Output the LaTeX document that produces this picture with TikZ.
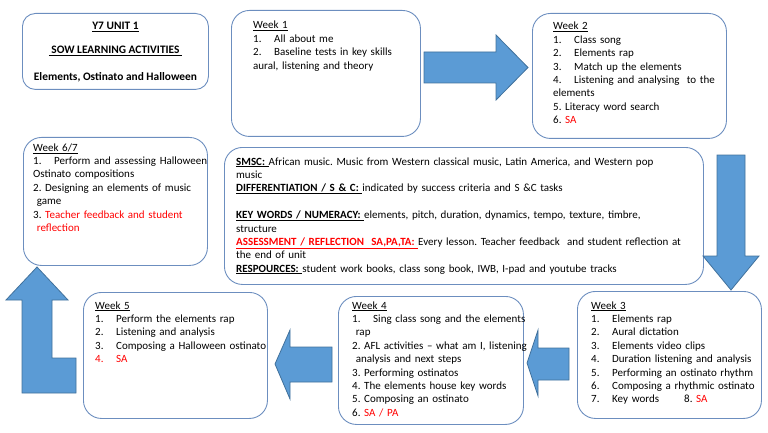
\documentclass[tikz,border=0pt]{standalone}
\usepackage{fontspec}
\setmainfont{Carlito}
\usepackage{xcolor}
\usepackage{tikz}
\definecolor{boxEdge}{HTML}{6C8EBF}
\definecolor{arrowBlue}{HTML}{5B9BD5}
\definecolor{arrowEdge}{HTML}{41719C}
\definecolor{markRed}{HTML}{FF0000}
\usetikzlibrary{positioning}
\frenchspacing
\newcommand{\itm}[2]{\makebox[21pt][l]{#1}#2}
\newcommand{\sa}[1]{\textcolor{markRed}{#1}}
\tikzstyle{weekbox} = [rectangle, draw = boxEdge, line width = 0.9pt, rounded corners = 18pt, anchor = north west, inner sep = 0pt]
\tikzstyle{titlebox} = [weekbox, rounded corners = 13pt]
\tikzstyle{weektext} = [anchor = base west, inner sep = 0pt, text width = 200pt, align = left, font = \fontsize{11}{13.4}\selectfont]
\tikzstyle{infotext} = [weektext, text width = 470pt]
\tikzstyle{blockarrow} = [fill = arrowBlue, draw = arrowEdge, line width = 0.8pt, line join = miter]

\begin{document}
\begin{tikzpicture}[x = 1pt, y = -1pt]
        \useasboundingbox (0,0) rectangle (768,433);
        % boxes
        \node(y7) [titlebox, minimum width = 186pt, minimum height = 76pt] at (22,13) {};
        \node(wk1) [weekbox, minimum width = 189pt, minimum height = 126pt] at (231,10) {};
        \node(wk2) [weekbox, minimum width = 194pt, minimum height = 125pt] at (532,13) {};
        \node(wk67) [weekbox, minimum width = 184pt, minimum height = 128pt] at (23,137) {};
        \node(info) [weekbox, minimum width = 479pt, minimum height = 137pt] at (224,147) {};
        \node(wk5) [weekbox, minimum width = 184pt, minimum height = 126pt] at (83,292) {};
        \node(wk4) [weekbox, minimum width = 185pt, minimum height = 128pt] at (338,296) {};
        \node(wk3) [weekbox, minimum width = 184pt, minimum height = 127pt] at (577,291) {};
        % texts
        \node(y7txt) [align = center, font = \fontsize{11.4}{13.4}\selectfont\bfseries] at ([yshift = -1pt]y7.center)
            {\underline{Y7 UNIT 1}\\[10.6pt]\underline{\ SOW LEARNING ACTIVITIES\ }\\[13.6pt]Elements, Ostinato and Halloween};
        \node(wk1txt) [weektext, below right = 19pt and 22pt of wk1.north west, anchor = base west]
            {\underline{Week 1}\\
            \itm{1.}{All about me}\\
            \itm{2.}{Baseline tests in key skills}\\
            aural, listening and theory};
        \node(wk2txt) [weektext, below right = 17pt and 21pt of wk2.north west, anchor = base west]
            {\underline{Week 2}\\
            \itm{1.}{Class song}\\
            \itm{2.}{Elements rap}\\
            \itm{3.}{Match up the elements}\\
            \itm{4.}{Listening and analysing\ \ to the}\\
            elements\\
            5. Literacy word search\\
            6. \sa{SA}};
        \node(wk67txt) [weektext, below right = 14pt and 10pt of wk67.north west, anchor = base west]
            {\underline{Week 6/7}\\
            \itm{1.}{Perform and assessing Halloween}\\
            Ostinato compositions\\
            2. Designing an elements of music\\
            \ game\\
            3. \sa{Teacher feedback and student}\\
            \ \sa{reflection}};
        \node(infotxt) [infotext, below right = 18pt and 12pt of info.north west, anchor = base west]
            {\underline{\textbf{SMSC:}\ }African music. Music from Western classical music, Latin America, and Western pop\\
            music\\
            \underline{\textbf{DIFFERENTIATION / S \& C:}\ }indicated by success criteria and S \&C tasks\\[13.4pt]
            \underline{\textbf{KEY WORDS / NUMERACY:}\ }elements, pitch, duration, dynamics, tempo, texture, timbre,\\
            structure\\
            \sa{\underline{\textbf{ASSESSMENT / REFLECTION\ \ SA,PA,TA:}\ }}Every lesson. Teacher feedback\ \ and student reflection at\\
            the end of unit\\
            \underline{\textbf{RESPOURCES:}\ }student work books, class song book, IWB, I-pad and youtube tracks};
        \node(wk5txt) [weektext, below right = 17pt and 12pt of wk5.north west, anchor = base west]
            {\underline{Week 5}\\
            \itm{1.}{Perform the elements rap}\\
            \itm{2.}{Listening and analysis}\\
            \itm{3.}{Composing a Halloween ostinato}\\
            \sa{\itm{4.}{SA}}};
        \node(wk4txt) [weektext, below right = 13pt and 14pt of wk4.north west, anchor = base west]
            {\underline{Week 4}\\
            \itm{1.}{Sing class song and the elements}\\
            \ rap\\
            2. AFL activities -- what am I, listening\\
            \ analysis and next steps\\
            3. Performing ostinatos\\
            4. The elements house key words\\
            5. Composing an ostinato\\
            6. \sa{SA / PA}};
        \node(wk3txt) [weektext, below right = 18pt and 14pt of wk3.north west, anchor = base west]
            {\underline{Week 3}\\
            \itm{1.}{Elements rap}\\
            \itm{2.}{Aural dictation}\\
            \itm{3.}{Elements video clips}\\
            \itm{4.}{Duration listening and analysis}\\
            \itm{5.}{Performing an ostinato rhythm}\\
            \itm{6.}{Composing a rhythmic ostinato}\\
            \makebox[93pt][l]{\itm{7.}{Key words}}8. \sa{SA}};
        % block arrows
        \draw[blockarrow] (424,52) -- (496,52) -- (496,35) -- (528,67.5) -- (496,100) -- (496,83) -- (424,83) -- cycle;
        \draw[blockarrow] (717,155) -- (745,155) -- (745,256) -- (759,256) -- (731,290) -- (703,256) -- (717,256) -- cycle;
        \draw[blockarrow] (569,348) -- (538,348) -- (538,330) -- (527,363) -- (538,396) -- (538,380) -- (569,380) -- cycle;
        \draw[blockarrow] (332,347) -- (290,347) -- (290,330) -- (275,364) -- (290,399) -- (290,382) -- (332,382) -- cycle;
        \draw[blockarrow] (37,267) -- (68,300) -- (52,300) -- (52,358) -- (76,358) -- (76,393) -- (22,393) -- (22,300) -- (6,300) -- cycle;
    \end{tikzpicture}
\end{document}
